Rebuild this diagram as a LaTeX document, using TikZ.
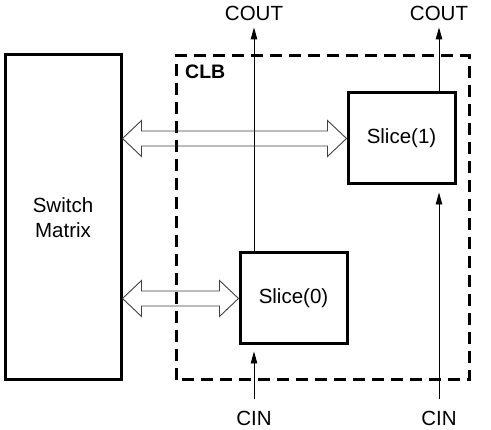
\documentclass[tikz,border=0pt]{standalone}
\usepackage{fontspec}
\setmainfont{Liberation Sans}
\usetikzlibrary{calc,arrows.meta}
\newcommand\fatarrowpath[2]{%
  \draw[fatarrow] (#1) -- ++(19,18) -- ++(0,-10.5) -- ($(#2)+(-19,7.5)$) -- ++(0,10.5)
    -- (#2) -- ++(-19,-18) -- ++(0,10.5) -- ($(#1)+(19,-7.5)$) -- ++(0,-10.5) -- cycle;}
\begin{document}
\begin{tikzpicture}[x=1pt,y=1pt,
  every node/.style={font=\fontsize{20.5}{25}\selectfont, inner sep=2pt},
  blockbox/.style={draw, line width=3pt, minimum width=#1, minimum height=91pt, inner sep=0pt},
  fatarrow/.style={draw=black!75, line width=0.9pt},
  sigline/.style={line width=0.9pt, -{Triangle[length=12pt,width=6.5pt]}}]
\useasboundingbox (0,0) rectangle (491,430);
% Switch matrix
\node[draw, line width=3pt, minimum width=116pt, minimum height=325pt, inner sep=0pt,
      align=center] (sm) at (63,212.5) {Switch\\Matrix};
% CLB dashed
\draw[line width=3pt, dash pattern=on 12pt off 7pt] (176,50) rectangle (469,374);
\node[anchor=west, font=\fontsize{19.5}{23}\bfseries\selectfont] (clb) at (183,358) {CLB};
% slices
\node[blockbox=107pt] (s1) at (401.5,291.5) {Slice(1)};
\node[blockbox=107pt] (s0) at (293.5,131.5) {Slice(0)};
% labels
\node (cout0) at (254,417) {COUT};
\node (cout1) at (439,417) {COUT};
\node (cin0) at (254,12) {CIN};
\node (cin1) at (439,12) {CIN};
% carry lines
\draw[sigline, shorten >=5pt] (cout0.south |- s0.north) -- (cout0.south);
\draw[sigline, shorten >=5pt] (cout1.south |- s1.north) -- (cout1.south);
\draw[sigline, shorten <=10pt, shorten >=6pt] (cin0.north) -- (cin0.north |- s0.south);
\draw[sigline, shorten <=10pt, shorten >=7pt] (cin1.north) -- (cin1.north |- s1.south);
% bus arrows
\coordinate (a1) at (sm.east |- s1.west);
\coordinate (a0) at (sm.east |- s0.west);
\fatarrowpath{a1}{s1.west}
\fatarrowpath{a0}{s0.west}
\end{tikzpicture}
\end{document}
